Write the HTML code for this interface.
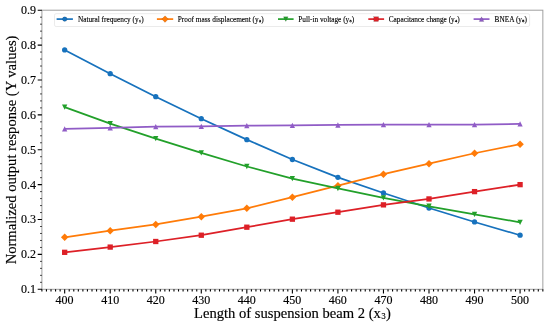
<!DOCTYPE html>
<html lang="en"><head><meta charset="utf-8"><title>Chart</title>
<style>html,body{margin:0;padding:0;background:#fff}svg{display:block}</style></head>
<body>
<svg width="550" height="326" viewBox="0 0 550 326">
<rect width="550" height="326" fill="#fff"/>
<rect x="41.9" y="10.2" width="500.95" height="279.10" fill="none" stroke="#a0a0a0" stroke-width="1"/>
<path d="M41.90 289.3 v2.1 M46.45 289.3 v2.1 M51.01 289.3 v2.1 M55.56 289.3 v2.1 M60.12 289.3 v2.1 M64.67 289.3 v4.2 M69.22 289.3 v2.1 M73.78 289.3 v2.1 M78.33 289.3 v2.1 M82.89 289.3 v2.1 M87.44 289.3 v2.1 M92.00 289.3 v2.1 M96.55 289.3 v2.1 M101.10 289.3 v2.1 M105.66 289.3 v2.1 M110.21 289.3 v4.2 M114.77 289.3 v2.1 M119.32 289.3 v2.1 M123.87 289.3 v2.1 M128.43 289.3 v2.1 M132.98 289.3 v2.1 M137.54 289.3 v2.1 M142.09 289.3 v2.1 M146.64 289.3 v2.1 M151.20 289.3 v2.1 M155.75 289.3 v4.2 M160.31 289.3 v2.1 M164.86 289.3 v2.1 M169.41 289.3 v2.1 M173.97 289.3 v2.1 M178.52 289.3 v2.1 M183.08 289.3 v2.1 M187.63 289.3 v2.1 M192.19 289.3 v2.1 M196.74 289.3 v2.1 M201.29 289.3 v4.2 M205.85 289.3 v2.1 M210.40 289.3 v2.1 M214.96 289.3 v2.1 M219.51 289.3 v2.1 M224.06 289.3 v2.1 M228.62 289.3 v2.1 M233.17 289.3 v2.1 M237.73 289.3 v2.1 M242.28 289.3 v2.1 M246.83 289.3 v4.2 M251.39 289.3 v2.1 M255.94 289.3 v2.1 M260.50 289.3 v2.1 M265.05 289.3 v2.1 M269.60 289.3 v2.1 M274.16 289.3 v2.1 M278.71 289.3 v2.1 M283.27 289.3 v2.1 M287.82 289.3 v2.1 M292.38 289.3 v4.2 M296.93 289.3 v2.1 M301.48 289.3 v2.1 M306.04 289.3 v2.1 M310.59 289.3 v2.1 M315.15 289.3 v2.1 M319.70 289.3 v2.1 M324.25 289.3 v2.1 M328.81 289.3 v2.1 M333.36 289.3 v2.1 M337.92 289.3 v4.2 M342.47 289.3 v2.1 M347.02 289.3 v2.1 M351.58 289.3 v2.1 M356.13 289.3 v2.1 M360.69 289.3 v2.1 M365.24 289.3 v2.1 M369.79 289.3 v2.1 M374.35 289.3 v2.1 M378.90 289.3 v2.1 M383.46 289.3 v4.2 M388.01 289.3 v2.1 M392.56 289.3 v2.1 M397.12 289.3 v2.1 M401.67 289.3 v2.1 M406.23 289.3 v2.1 M410.78 289.3 v2.1 M415.34 289.3 v2.1 M419.89 289.3 v2.1 M424.44 289.3 v2.1 M429.00 289.3 v4.2 M433.55 289.3 v2.1 M438.11 289.3 v2.1 M442.66 289.3 v2.1 M447.21 289.3 v2.1 M451.77 289.3 v2.1 M456.32 289.3 v2.1 M460.88 289.3 v2.1 M465.43 289.3 v2.1 M469.98 289.3 v2.1 M474.54 289.3 v4.2 M479.09 289.3 v2.1 M483.65 289.3 v2.1 M488.20 289.3 v2.1 M492.76 289.3 v2.1 M497.31 289.3 v2.1 M501.86 289.3 v2.1 M506.42 289.3 v2.1 M510.97 289.3 v2.1 M515.53 289.3 v2.1 M520.08 289.3 v4.2 M524.63 289.3 v2.1 M529.19 289.3 v2.1 M533.74 289.3 v2.1 M538.30 289.3 v2.1 M542.85 289.3 v2.1 M41.9 289.30 h-4.2 M41.9 254.41 h-4.2 M41.9 219.52 h-4.2 M41.9 184.64 h-4.2 M41.9 149.75 h-4.2 M41.9 114.86 h-4.2 M41.9 79.98 h-4.2 M41.9 45.09 h-4.2 M41.9 10.20 h-4.2" stroke="#000" stroke-width="1.1" fill="none"/>
<path d="M41.9 282.32 h-1.8 M41.9 275.35 h-1.8 M41.9 268.37 h-1.8 M41.9 261.39 h-1.8 M41.9 247.44 h-1.8 M41.9 240.46 h-1.8 M41.9 233.48 h-1.8 M41.9 226.50 h-1.8 M41.9 212.55 h-1.8 M41.9 205.57 h-1.8 M41.9 198.59 h-1.8 M41.9 191.62 h-1.8 M41.9 177.66 h-1.8 M41.9 170.68 h-1.8 M41.9 163.71 h-1.8 M41.9 156.73 h-1.8 M41.9 142.77 h-1.8 M41.9 135.79 h-1.8 M41.9 128.82 h-1.8 M41.9 121.84 h-1.8 M41.9 107.88 h-1.8 M41.9 100.91 h-1.8 M41.9 93.93 h-1.8 M41.9 86.95 h-1.8 M41.9 73.00 h-1.8 M41.9 66.02 h-1.8 M41.9 59.04 h-1.8 M41.9 52.06 h-1.8 M41.9 38.11 h-1.8 M41.9 31.13 h-1.8 M41.9 24.16 h-1.8 M41.9 17.18 h-1.8" stroke="#222" stroke-width="0.9" fill="none"/>
<g font-family="'Liberation Serif', 'DejaVu Serif', serif" fill="#000" stroke="#000" stroke-width="0.15">
<g font-size="12" text-anchor="middle">
<text x="64.62" y="303.6">400</text>
<text x="110.16" y="303.6">410</text>
<text x="155.70" y="303.6">420</text>
<text x="201.24" y="303.6">430</text>
<text x="246.78" y="303.6">440</text>
<text x="292.32" y="303.6">450</text>
<text x="337.87" y="303.6">460</text>
<text x="383.41" y="303.6">470</text>
<text x="428.95" y="303.6">480</text>
<text x="474.49" y="303.6">490</text>
<text x="520.03" y="303.6">500</text>
</g>
<g font-size="12" text-anchor="end">
<text x="36.0" y="293.20">0.1</text>
<text x="36.0" y="258.31">0.2</text>
<text x="36.0" y="223.43">0.3</text>
<text x="36.0" y="188.54">0.4</text>
<text x="36.0" y="153.65">0.5</text>
<text x="36.0" y="118.76">0.6</text>
<text x="36.0" y="83.88">0.7</text>
<text x="36.0" y="48.99">0.8</text>
<text x="36.0" y="14.10">0.9</text>
</g>
<text x="292.48" y="317.9" font-size="14.6" text-anchor="middle">Length of suspension beam 2 (x<tspan dy="-2.3">₃</tspan><tspan dy="2.3">)</tspan></text>
<text transform="translate(15.6 149.95) rotate(-90)" font-size="14.6" text-anchor="middle">Normalized output response (Y values)</text>
</g>
<polyline points="64.67,49.97 110.21,73.70 155.75,96.72 201.29,118.70 246.83,139.63 292.38,159.52 337.92,177.31 383.46,193.01 429.00,208.01 474.54,221.97 520.08,235.22" fill="none" stroke="#1772bd" stroke-width="1.75" stroke-linejoin="round"/>
<circle cx="64.67" cy="49.97" r="2.65" fill="#1772bd"/>
<circle cx="110.21" cy="73.70" r="2.65" fill="#1772bd"/>
<circle cx="155.75" cy="96.72" r="2.65" fill="#1772bd"/>
<circle cx="201.29" cy="118.70" r="2.65" fill="#1772bd"/>
<circle cx="246.83" cy="139.63" r="2.65" fill="#1772bd"/>
<circle cx="292.38" cy="159.52" r="2.65" fill="#1772bd"/>
<circle cx="337.92" cy="177.31" r="2.65" fill="#1772bd"/>
<circle cx="383.46" cy="193.01" r="2.65" fill="#1772bd"/>
<circle cx="429.00" cy="208.01" r="2.65" fill="#1772bd"/>
<circle cx="474.54" cy="221.97" r="2.65" fill="#1772bd"/>
<circle cx="520.08" cy="235.22" r="2.65" fill="#1772bd"/>
<polyline points="64.67,237.32 110.21,230.69 155.75,224.41 201.29,216.73 246.83,208.36 292.38,197.20 337.92,185.68 383.46,174.17 429.00,163.71 474.54,153.24 520.08,144.17" fill="none" stroke="#ff7b08" stroke-width="1.75" stroke-linejoin="round"/>
<polygon points="64.67,233.57 68.42,237.32 64.67,241.06 60.92,237.32" fill="#ff7b08"/>
<polygon points="110.21,226.94 113.96,230.69 110.21,234.44 106.46,230.69" fill="#ff7b08"/>
<polygon points="155.75,220.66 159.50,224.41 155.75,228.16 152.01,224.41" fill="#ff7b08"/>
<polygon points="201.29,212.99 205.04,216.73 201.29,220.48 197.55,216.73" fill="#ff7b08"/>
<polygon points="246.83,204.61 250.58,208.36 246.83,212.11 243.09,208.36" fill="#ff7b08"/>
<polygon points="292.38,193.45 296.12,197.20 292.38,200.94 288.63,197.20" fill="#ff7b08"/>
<polygon points="337.92,181.94 341.66,185.68 337.92,189.43 334.17,185.68" fill="#ff7b08"/>
<polygon points="383.46,170.42 387.20,174.17 383.46,177.92 379.71,174.17" fill="#ff7b08"/>
<polygon points="429.00,159.96 432.74,163.71 429.00,167.45 425.25,163.71" fill="#ff7b08"/>
<polygon points="474.54,149.49 478.29,153.24 474.54,156.99 470.79,153.24" fill="#ff7b08"/>
<polygon points="520.08,140.42 523.83,144.17 520.08,147.92 516.33,144.17" fill="#ff7b08"/>
<polyline points="64.67,107.19 110.21,123.58 155.75,138.59 201.29,152.89 246.83,166.50 292.38,178.71 337.92,188.48 383.46,197.89 429.00,206.27 474.54,214.29 520.08,222.32" fill="none" stroke="#22a02a" stroke-width="1.75" stroke-linejoin="round"/>
<polygon points="64.67,109.84 67.32,104.54 62.02,104.54" fill="#22a02a"/>
<polygon points="110.21,126.23 112.86,120.93 107.56,120.93" fill="#22a02a"/>
<polygon points="155.75,141.24 158.40,135.94 153.10,135.94" fill="#22a02a"/>
<polygon points="201.29,155.54 203.94,150.24 198.64,150.24" fill="#22a02a"/>
<polygon points="246.83,169.15 249.48,163.85 244.18,163.85" fill="#22a02a"/>
<polygon points="292.38,181.36 295.02,176.06 289.73,176.06" fill="#22a02a"/>
<polygon points="337.92,191.13 340.57,185.83 335.27,185.83" fill="#22a02a"/>
<polygon points="383.46,200.54 386.11,195.24 380.81,195.24" fill="#22a02a"/>
<polygon points="429.00,208.92 431.65,203.62 426.35,203.62" fill="#22a02a"/>
<polygon points="474.54,216.94 477.19,211.64 471.89,211.64" fill="#22a02a"/>
<polygon points="520.08,224.97 522.73,219.67 517.43,219.67" fill="#22a02a"/>
<polyline points="64.67,252.32 110.21,247.09 155.75,241.50 201.29,235.22 246.83,227.20 292.38,219.18 337.92,212.20 383.46,204.87 429.00,198.94 474.54,191.62 520.08,184.64" fill="none" stroke="#dd2027" stroke-width="1.75" stroke-linejoin="round"/>
<rect x="62.02" y="249.67" width="5.30" height="5.30" fill="#dd2027"/>
<rect x="107.56" y="244.44" width="5.30" height="5.30" fill="#dd2027"/>
<rect x="153.10" y="238.85" width="5.30" height="5.30" fill="#dd2027"/>
<rect x="198.64" y="232.57" width="5.30" height="5.30" fill="#dd2027"/>
<rect x="244.18" y="224.55" width="5.30" height="5.30" fill="#dd2027"/>
<rect x="289.73" y="216.53" width="5.30" height="5.30" fill="#dd2027"/>
<rect x="335.27" y="209.55" width="5.30" height="5.30" fill="#dd2027"/>
<rect x="380.81" y="202.22" width="5.30" height="5.30" fill="#dd2027"/>
<rect x="426.35" y="196.29" width="5.30" height="5.30" fill="#dd2027"/>
<rect x="471.89" y="188.97" width="5.30" height="5.30" fill="#dd2027"/>
<rect x="517.43" y="181.99" width="5.30" height="5.30" fill="#dd2027"/>
<polyline points="64.67,128.82 110.21,127.77 155.75,126.72 201.29,126.38 246.83,125.68 292.38,125.33 337.92,124.98 383.46,124.63 429.00,124.63 474.54,124.63 520.08,123.93" fill="none" stroke="#905cc6" stroke-width="1.75" stroke-linejoin="round"/>
<polygon points="64.67,126.17 67.32,131.47 62.02,131.47" fill="#905cc6"/>
<polygon points="110.21,125.12 112.86,130.42 107.56,130.42" fill="#905cc6"/>
<polygon points="155.75,124.07 158.40,129.37 153.10,129.37" fill="#905cc6"/>
<polygon points="201.29,123.73 203.94,129.03 198.64,129.03" fill="#905cc6"/>
<polygon points="246.83,123.03 249.48,128.33 244.18,128.33" fill="#905cc6"/>
<polygon points="292.38,122.68 295.02,127.98 289.73,127.98" fill="#905cc6"/>
<polygon points="337.92,122.33 340.57,127.63 335.27,127.63" fill="#905cc6"/>
<polygon points="383.46,121.98 386.11,127.28 380.81,127.28" fill="#905cc6"/>
<polygon points="429.00,121.98 431.65,127.28 426.35,127.28" fill="#905cc6"/>
<polygon points="474.54,121.98 477.19,127.28 471.89,127.28" fill="#905cc6"/>
<polygon points="520.08,121.28 522.73,126.58 517.43,126.58" fill="#905cc6"/>
<rect x="54.5" y="13.7" width="475.1" height="12.8" rx="1.6" fill="#fff" fill-opacity="0.8" stroke="#e6e6e6" stroke-width="0.8"/>
<g font-family="'Liberation Serif', 'DejaVu Serif', serif" font-size="7.3" fill="#000" stroke="#000" stroke-width="0.12">
<line x1="56.6" y1="19.1" x2="72.9" y2="19.1" stroke="#1772bd" stroke-width="1.7"/>
<circle cx="64.75" cy="19.10" r="2.35" fill="#1772bd"/>
<text x="77.90" y="21.6">Natural frequency (y<tspan dy="-0.6" stroke-width="0.3">₁</tspan><tspan dy="0.6">)</tspan></text>
<line x1="156.9" y1="19.1" x2="173.2" y2="19.1" stroke="#ff7b08" stroke-width="1.7"/>
<polygon points="165.05,15.78 168.37,19.10 165.05,22.42 161.73,19.10" fill="#ff7b08"/>
<text x="177.80" y="21.6">Proof mass displacement (y<tspan dy="-0.6" stroke-width="0.3">₂</tspan><tspan dy="0.6">)</tspan></text>
<line x1="278.0" y1="19.1" x2="293.6" y2="19.1" stroke="#22a02a" stroke-width="1.7"/>
<polygon points="285.80,21.45 288.15,16.75 283.45,16.75" fill="#22a02a"/>
<text x="298.20" y="21.6">Pull-in voltage (y<tspan dy="-0.6" stroke-width="0.3">₃</tspan><tspan dy="0.6">)</tspan></text>
<line x1="368.3" y1="19.1" x2="384.1" y2="19.1" stroke="#dd2027" stroke-width="1.7"/>
<rect x="373.85" y="16.75" width="4.70" height="4.70" fill="#dd2027"/>
<text x="388.70" y="21.6">Capacitance change (y<tspan dy="-0.6" stroke-width="0.3">₄</tspan><tspan dy="0.6">)</tspan></text>
<line x1="473.6" y1="19.1" x2="489.5" y2="19.1" stroke="#905cc6" stroke-width="1.7"/>
<polygon points="481.55,16.75 483.90,21.45 479.20,21.45" fill="#905cc6"/>
<text x="494.60" y="21.6">BNEA (y<tspan dy="-0.6" stroke-width="0.3">₅</tspan><tspan dy="0.6">)</tspan></text>
</g>
</svg>
</body></html>
